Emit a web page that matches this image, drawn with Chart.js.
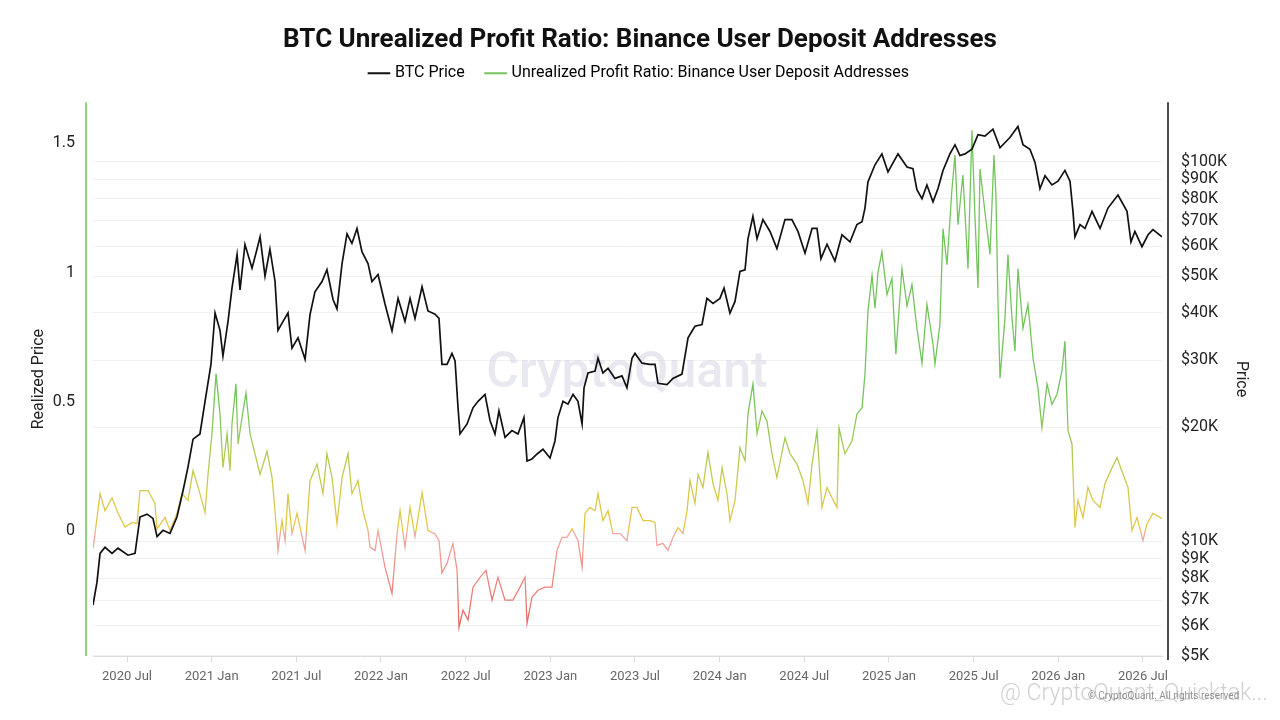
<!DOCTYPE html>
<html>
<head>
<meta charset="utf-8">
<title>BTC Unrealized Profit Ratio: Binance User Deposit Addresses</title>
<script src="https://cdn.jsdelivr.net/npm/chart.js@4.4.1/dist/chart.umd.min.js"></script>
<style>
  html, body { margin: 0; padding: 0; background: #fff; }
  #wrap { width: 1280px; height: 720px; position: relative; }
</style>
</head>
<body>
<div id="wrap"><canvas id="c"></canvas></div>
<script>
// x positions are months counted from 2020 Jan (6 = 2020 Jul, 12 = 2021 Jan ...)
const priceT = [3.59,3.87,4.09,4.44,4.94,5.36,6.07,6.57,6.92,7.42,7.84,8.13,8.55,9.05,9.54,9.97,10.32,10.68,11.17,11.53,
  11.95,12.24,12.59,12.80,13.16,13.44,13.80,14.01,14.36,14.86,15.21,15.43,15.78,16.13,16.49,16.70,17.06,17.41,17.69,18.12,
  18.62,18.97,19.32,19.82,20.17,20.60,20.88,21.24,21.59,21.94,22.30,22.65,23.08,23.36,23.79,24.28,24.78,25.21,25.70,26.06,
  26.41,26.91,27.33,27.83,28.11,28.32,28.68,29.03,29.25,29.46,29.60,30.10,30.52,30.88,31.37,31.73,32.08,32.36,32.79,33.28,
  33.71,34.13,34.35,34.70,35.06,35.48,35.98,36.33,36.54,36.90,37.25,37.61,37.96,38.25,38.39,38.67,39.17,39.38,39.73,40.09,
  40.58,41.08,41.43,41.79,42.00,42.50,43.06,43.42,43.63,44.27,44.69,45.33,45.76,46.25,46.75,47.10,47.53,48.02,48.31,48.73,
  49.09,49.44,49.80,50.01,50.36,50.65,51.07,51.57,52.06,52.63,53.12,53.55,54.05,54.55,54.90,55.18,55.61,56.17,56.67,57.24,
  57.73,58.09,58.30,58.51,59.01,59.50,59.93,60.64,61.28,61.70,61.98,62.34,62.69,63.12,63.47,63.83,64.32,64.68,65.03,65.39,
  65.88,66.31,66.80,67.37,67.87,68.57,69.14,69.50,69.99,70.35,70.70,71.06,71.55,71.98,72.47,72.83,73.04,73.18,73.54,73.89,
  74.39,74.96,75.52,76.23,76.87,77.15,77.43,77.93,78.36,78.71,79.35];
// BTC price in thousands of USD
const priceK = [6.8,7.8,9.3,9.65,9.3,9.6,9.2,9.3,11.6,11.8,11.5,10.3,10.7,10.5,11.6,13.6,15.7,18.6,19.2,23.4,
  29.3,40,36,30.8,38,46.5,57,46,60.6,52.5,58.9,63.5,50,58.9,48.5,36,38,40,32.3,34.4,
  30.2,39.6,45.5,48.4,52,43.4,41,54,64.6,61,66.8,58,54,48.4,50.5,42.3,35.9,43.7,38,43.7,
  38.7,46.9,40.5,39.7,38.7,29.3,29.3,31.3,29.9,22.5,19.2,20.4,22.5,23.4,24.4,20.8,19.2,22.1,18.8,19.6,
  19.2,21.2,16.3,16.5,17,17.5,16.6,18.4,21.2,23.4,23,24.4,23.4,20.4,25.4,27.8,28.1,30.4,27.8,28.6,
  26.9,27.3,25.4,30.4,31.3,29.5,29.3,29.3,26.1,25.9,26.9,27.6,34.4,36.9,37.3,43.7,42.4,43.7,46.5,40,
  42.9,51.5,52,62.8,71.9,62.8,70.5,65.6,59.1,70.5,70.5,65.6,57.5,66.8,66.8,55.6,60.7,54.8,64.3,61.6,
  68.4,69.6,75.6,88.6,98.3,105,94.1,105,97,96,84.5,80,87,78.5,85,95,105,111,104,105,
  108,118,117,122,109,116,124,111,108,99.7,85,92,87,89,95,89,74.1,63.5,68.4,66.8,
  74.1,66.8,75.6,81.8,74.1,61.5,65.6,59.8,64.3,66.3,63.5];

const ratioT = [3.59,3.73,4.09,4.44,4.94,5.36,5.86,6.36,6.71,6.92,7.49,7.98,8.13,8.69,9.05,9.54,9.90,10.32,10.68,11.17,
  11.53,11.74,12.02,12.31,12.59,12.80,13.09,13.30,13.44,13.72,13.87,14.15,14.43,14.72,15.07,15.43,15.92,16.28,16.49,16.70,
  16.98,17.20,17.41,17.69,18.05,18.62,18.97,19.47,19.89,20.17,20.53,20.88,21.24,21.66,21.94,22.37,22.72,23.08,23.22,23.58,
  23.79,24.28,24.78,25.14,25.35,25.70,26.06,26.41,26.91,27.33,27.83,28.11,28.32,28.68,29.10,29.39,29.53,29.81,30.17,30.52,
  31.02,31.44,31.87,32.29,32.79,33.35,33.85,34.21,34.35,34.70,35.13,35.62,36.12,36.47,36.83,37.18,37.54,37.96,38.25,38.46,
  38.81,39.17,39.38,39.73,40.09,40.44,40.94,41.43,41.79,42.14,42.57,43.06,43.42,43.56,43.98,44.34,44.69,45.05,45.40,45.69,
  45.90,46.25,46.47,46.82,47.17,47.53,47.88,48.17,48.52,48.73,49.09,49.44,49.80,50.01,50.36,50.65,51.00,51.35,51.71,52.06,
  52.63,52.99,53.48,53.91,54.26,54.55,54.90,55.25,55.61,55.96,56.32,56.46,56.88,57.38,57.73,58.09,58.30,58.51,58.80,59.01,
  59.22,59.50,59.86,60.21,60.49,60.92,61.28,61.63,61.98,62.34,62.69,63.12,63.26,63.61,63.83,64.11,64.46,64.68,64.89,65.24,
  65.60,65.88,66.10,66.31,66.45,66.80,67.16,67.44,67.58,67.72,67.87,68.22,68.43,68.72,68.93,69.14,69.50,69.85,70.21,70.56,
  70.84,71.20,71.55,71.91,72.26,72.47,72.69,72.97,73.18,73.39,73.75,74.10,74.46,74.96,75.31,75.81,76.16,76.58,76.94,77.22,
  77.58,78.00,78.29,78.71,79.35];
const ratioV = [-0.065,-0.01,0.146,0.08,0.13,0.07,0.017,0.035,0.03,0.158,0.158,0.108,0.01,0.054,0.004,0.07,0.146,0.12,0.235,0.146,
  0.073,0.22,0.377,0.61,0.454,0.246,0.377,0.235,0.415,0.57,0.338,0.44,0.535,0.377,0.3,0.22,0.31,0.208,0.08,-0.073,
  0.042,-0.035,0.146,-0.008,0.07,-0.073,0.196,0.26,0.146,0.3,0.208,0.03,0.208,0.3,0.146,0.196,0.08,0.004,-0.06,-0.073,
  0.004,-0.138,-0.24,-0.008,0.08,-0.06,0.093,-0.02,0.15,0.004,-0.01,-0.035,-0.16,-0.123,-0.046,-0.15,-0.37,-0.304,-0.342,-0.215,
  -0.177,-0.15,-0.265,-0.177,-0.265,-0.265,-0.215,-0.177,-0.354,-0.254,-0.227,-0.215,-0.215,-0.073,-0.023,-0.023,0.01,-0.035,-0.138,0.07,
  0.093,0.08,0.146,0.042,0.08,-0.008,-0.008,-0.035,0.093,0.093,0.042,0.042,0.035,-0.054,-0.046,-0.073,-0.023,0.015,-0.008,0.08,
  0.196,0.108,0.22,0.17,0.305,0.185,0.12,0.246,0.146,0.042,0.12,0.323,0.273,0.454,0.57,0.377,0.465,0.427,0.3,0.208,
  0.362,0.3,0.26,0.196,0.108,0.26,0.388,0.093,0.17,0.13,0.093,0.4,0.3,0.35,0.454,0.477,0.608,0.85,0.99,0.862,
  1.0,1.08,0.915,0.977,0.685,1.015,0.87,0.954,0.785,0.65,0.877,0.723,0.646,0.8,1.17,1.03,1.32,1.454,1.185,1.377,
  1.015,1.55,1.208,0.94,1.4,1.235,1.07,1.454,1.3,0.9,0.592,0.823,1.07,0.823,0.696,1.015,0.785,0.877,0.669,0.554,
  0.4,0.57,0.49,0.53,0.62,0.735,0.388,0.338,0.015,0.12,0.054,0.17,0.12,0.093,0.185,0.246,0.285,0.223,0.17,0.004,
  0.054,-0.035,0.03,0.07,0.05];

const xTicks = [6,12,18,24,30,36,42,48,54,60,66,72,78];
const ratioTicks = [0,0.5,1,1.5];
const priceTicks = [5000,6000,7000,8000,9000,10000,20000,30000,40000,50000,60000,70000,80000,90000,100000];

const FONT = "Roboto, 'Noto Sans', sans-serif";

// colour of the ratio line depends on its value (red under 0, yellow around 0, green when high)
function ratioGradient(context) {
  const chart = context.chart;
  const area = chart.chartArea;
  const sc = chart.scales.yR;
  if (!area || !sc) return '#74c45c';
  const top = area.top, h = area.bottom - area.top;
  const off = function(v) {
    const o = (sc.getPixelForValue(v) - top) / h;
    return Math.min(1, Math.max(0, o));
  };
  const g = chart.ctx.createLinearGradient(0, top, 0, area.bottom);
  g.addColorStop(0, '#72c45c');
  g.addColorStop(off(0.5), '#74c45c');
  g.addColorStop(off(0.32), '#a8cb55');
  g.addColorStop(off(0.15), '#d6c94a');
  g.addColorStop(off(0.001), '#e5c744');
  g.addColorStop(off(-0.001), '#f2aaa4');
  g.addColorStop(off(-0.4), '#e8605c');
  g.addColorStop(1, '#e8605c');
  return g;
}

// empty box under the legend so the plot starts lower
const spacer = {
  id: 'spacer',
  beforeInit(chart) {
    const box = {
      position: 'top', weight: 100, fullSize: true,
      options: {},
      width: 0, height: 0, left: 0, top: 0, right: 0, bottom: 0,
      isHorizontal() { return true; },
      update(maxWidth) { this.width = maxWidth; this.height = 11; return this.height; },
      draw() {}
    };
    Chart.layouts.addBox(chart, box);
  }
};

// axis lines drawn beside the plot, watermark and credit text
const decor = {
  id: 'decor',
  beforeDatasetsDraw(chart) {
    const c = chart.ctx;
    c.save();
    c.font = "500 50px " + FONT;
    c.fillStyle = 'rgba(214,214,228,0.55)';
    c.textAlign = 'center';
    c.textBaseline = 'middle';
    c.fillText('CryptoQuant', 627, 374);
    c.restore();
  },
  afterDraw(chart) {
    const a = chart.chartArea;
    const c = chart.ctx;
    c.save();
    c.lineWidth = 1.5;
    c.strokeStyle = '#6cc24a';
    c.beginPath(); c.moveTo(a.left - 7, a.top); c.lineTo(a.left - 7, a.bottom); c.stroke();
    c.strokeStyle = '#111';
    c.beginPath(); c.moveTo(a.right + 6, a.top); c.lineTo(a.right + 6, a.bottom + 4); c.stroke();
    c.font = "300 23px " + FONT;
    c.fillStyle = 'rgba(170,170,170,0.55)';
    c.textBaseline = 'middle';
    c.fillText('@ CryptoQuant_Quicktak...', 1000, 694);
    c.font = "10px " + FONT;
    c.fillStyle = 'rgba(120,120,120,0.8)';
    c.fillText('© CryptoQuant. All rights reserved', 1088, 696);
    c.restore();
  }
};

new Chart(document.getElementById('c'), {
  type: 'line',
  data: {
    datasets: [{
      label: 'BTC Price',
      data: priceT.map(function(t, i) { return {x: t, y: priceK[i] * 1000}; }),
      yAxisID: 'yP',
      borderColor: '#111',
      borderWidth: 1.7,
      pointRadius: 0,
      tension: 0
    }, {
      label: 'Unrealized Profit Ratio: Binance User Deposit Addresses',
      data: ratioT.map(function(t, i) { return {x: t, y: ratioV[i]}; }),
      yAxisID: 'yR',
      borderColor: ratioGradient,
      borderWidth: 1.3,
      pointRadius: 0,
      tension: 0
    }]
  },
  options: {
    responsive: true,
    maintainAspectRatio: false,
    animation: false,
    layout: { padding: 0 },
    plugins: {
      title: {
        display: true,
        text: 'BTC Unrealized Profit Ratio: Binance User Deposit Addresses',
        color: '#111',
        font: { family: FONT, size: 26, weight: 'bold' },
        padding: { top: 25, bottom: 2 }
      },
      legend: {
        display: true,
        labels: {
          color: '#222',
          font: { family: FONT, size: 16 },
          usePointStyle: true,
          pointStyle: 'line',
          boxWidth: 16,
          padding: 7,
          generateLabels: function(chart) {
            return [
              { text: 'BTC Price    ', strokeStyle: '#111', fillStyle: '#111', lineWidth: 2, pointStyle: 'line', datasetIndex: 0 },
              { text: 'Unrealized Profit Ratio: Binance User Deposit Addresses', strokeStyle: '#74c45c', fillStyle: '#74c45c', lineWidth: 2, pointStyle: 'line', datasetIndex: 1 }
            ];
          }
        }
      },
      tooltip: { enabled: false }
    },
    scales: {
      x: {
        type: 'linear',
        min: 3.59,
        max: 79.35,
        afterFit: function(s) { s.height = 64; },
        afterBuildTicks: function(s) { s.ticks = xTicks.map(function(v) { return {value: v}; }); },
        ticks: {
          autoSkip: false,
          maxRotation: 0,
          color: '#666',
          font: { family: FONT, size: 13 },
          padding: 7,
          callback: function(v) {
            return (2020 + Math.floor(v / 12)) + (v % 12 === 0 ? ' Jan' : ' Jul');
          }
        },
        grid: { drawOnChartArea: false, drawTicks: true, tickLength: 6, color: '#dcdcdc' },
        border: { display: true, color: '#dcdcdc' }
      },
      yR: {
        type: 'linear',
        position: 'left',
        min: -0.481,
        max: 1.658,
        afterFit: function(s) { s.width = 93; },
        afterBuildTicks: function(s) { s.ticks = ratioTicks.map(function(v) { return {value: v}; }); },
        ticks: {
          autoSkip: false,
          color: '#222',
          font: { family: FONT, size: 16 },
          padding: 10,
          callback: function(v) { return String(v); }
        },
        grid: { display: false },
        border: { display: false },
        title: {
          display: true,
          text: 'Realized Price',
          color: '#222',
          font: { family: FONT, size: 16 },
          padding: { top: 29, bottom: 0 }
        }
      },
      yP: {
        type: 'logarithmic',
        position: 'right',
        min: 4991,
        max: 143700,
        afterFit: function(s) { s.width = 118; },
        afterBuildTicks: function(s) { s.ticks = priceTicks.map(function(v) { return {value: v}; }); },
        ticks: {
          autoSkip: false,
          color: '#222',
          font: { family: FONT, size: 16 },
          padding: 19,
          callback: function(v) { return '$' + (v / 1000) + 'K'; }
        },
        grid: { display: true, drawTicks: false, color: '#f0f0f0' },
        border: { display: false },
        title: {
          display: true,
          text: 'Price',
          color: '#222',
          font: { family: FONT, size: 16 },
          padding: { top: 29, bottom: 0 }
        }
      }
    }
  },
  plugins: [spacer, decor]
});
</script>
</body>
</html>
